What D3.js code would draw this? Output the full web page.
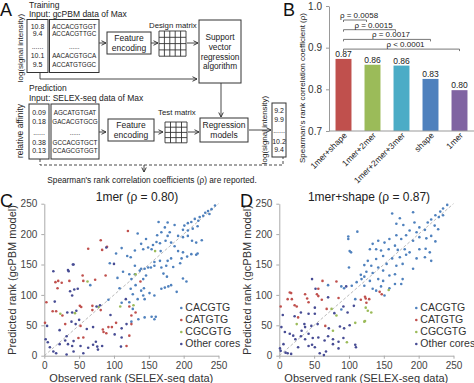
<!DOCTYPE html>
<html>
<head>
<meta charset="utf-8">
<script src="https://cdn.jsdelivr.net/npm/d3@7"></script>
<style>
  body { margin: 0; background: #fff; }
  svg { display: block; font-family: "Liberation Sans", Arial, sans-serif; }
</style>
</head>
<body>
<script>
const w = 474;
const h = 383;

// ---------- data ----------
// panel A texts
const trainValues = ["10.8", "9.4", "......", "10.1", "9.5"];
const trainSeqs = ["ACCACGTGGT", "ACCACGTTGC", "......", "AACACGTGCA", "ACCATGTGGC"];
const predValues = ["0.09", "0.18", "......", "0.38", "0.13"];
const predSeqs = ["AGCATGTGAT", "GACACGTGCG", "......", "GCCACGTGCT", "CCAGCGTGGT"];
const outValues = ["9.2", "9.9", "......", "10.2", "9.4"];

// panel B
const models = ["1mer+shape", "1mer+2mer", "1mer+2mer+3mer", "shape", "1mer"];
const rhoValues = [0.873, 0.859, 0.857, 0.825, 0.798];
const rhoLabels = ["0.87", "0.86", "0.86", "0.83", "0.80"];
const barColors = ["#c0504d", "#9bbb59", "#4bacc6", "#4f81bd", "#8064a2"];
const bTicks = [0.7, 0.8, 0.9, 1.0];
const pTexts = ["\u03c1 = 0.0058", "\u03c1 = 0.0015", "\u03c1 = 0.0017", "\u03c1 < 0.0001"];
const pTargets = [1, 2, 3, 4];

// panels C/D
const cores = ["CACGTG", "CATGTG", "CGCGTG", "Other cores"];
const coreColors = ["#4f81bd", "#c0504d", "#9bbb59", "#474c94"];
const rankTicks = [0, 50, 100, 150, 200, 250];

// 1mer model: [observed rank, predicted rank]
const c1merCACGTG = [
  [245,247],[240,241],[235,238],[237,233],[231,235],[228,230],[223,228],[221,222],[216,225],[211,220],
  [206,218],[201,214],[199,207],[206,206],[213,209],[220,213],[177,219],[164,220],[173,211],[187,215],
  [180,203],[192,197],[199,195],[206,197],[212,189],[218,186],[134,201],[146,192],[168,203],[162,198],
  [177,197],[174,189],[182,186],[166,185],[156,182],[149,178],[139,184],[142,175],[130,173],[154,175],
  [167,172],[187,180],[192,172],[199,170],[205,163],[211,167],[218,166],[197,160],[182,160],[177,156],
  [166,156],[158,154],[149,145],[139,143],[130,148],[124,162],[122,134],[130,134],[137,140],[144,143],
  [153,145],[158,148],[168,145],[175,148],[146,132],[142,126],[125,126],[131,116],[124,110],[127,101],
  [139,107],[143,111],[151,103],[158,99],[142,99],[134,93],[168,110],[173,112],[178,114],[182,116],
  [122,88],[144,93],[127,77],[135,60],[144,63],[154,64],[158,60],[125,56],[160,64],[171,135],
  [176,130],[185,146],[195,152],[199,127],[204,122],[190,105],[111,177],[103,168],[119,164],[94,152],
  [66,116],[105,128],[113,138],[108,111],[92,92],[111,87],[220,168],[226,190],[161,187]
];
const c1merCATGTG = [
  [120,205],[81,190],[90,179],[63,176],[83,174],[16,121],[20,123],[25,120],[19,111],[36,123],
  [55,132],[56,123],[73,125],[88,132],[3,88],[17,73],[12,73],[26,66],[51,82],[53,80],[69,82],
  [69,75],[81,75],[122,81],[1,54],[30,52],[52,49],[84,43],[89,37],[85,39],[92,47],[97,47],[103,54],
  [49,29],[56,30],[122,33],[131,71],[125,52],[125,66],[138,122],[118,16]
];
const c1merCGCGTG = [
  [62,122],[23,69],[109,81],[44,70],[128,83],[131,134],[159,172],[78,80]
];
const c1merOther = [
  [89,178],[100,151],[42,150],[13,139],[35,139],[37,106],[43,109],[40,99],[48,110],[15,89],
  [33,71],[40,71],[46,74],[75,81],[80,83],[95,67],[117,93],[4,49],[39,56],[45,52],[70,47],
  [50,59],[22,42],[61,44],[111,45],[118,52],[2,27],[5,22],[8,14],[13,7],[17,4],[22,19],[30,25],
  [32,32],[34,19],[40,16],[42,24],[52,16],[63,13],[70,18],[74,23],[76,15],[77,10],[83,16],[56,4],
  [42,7],[32,2],[110,15],[101,35],[111,30],[34,141],[41,150]
];

// 1mer+shape model: [observed rank, predicted rank]
const cShapeCACGTG = [
  [241,248],[235,242],[231,237],[235,231],[229,228],[224,231],[218,224],[213,219],[223,214],[228,208],
  [192,236],[162,234],[173,226],[168,217],[178,215],[194,219],[201,211],[209,207],[197,203],[187,206],
  [182,198],[201,195],[211,193],[218,197],[224,188],[192,189],[175,192],[168,198],[158,192],[151,186],
  [142,189],[134,184],[130,175],[139,175],[146,173],[157,175],[166,181],[170,174],[180,175],[187,170],
  [201,175],[210,176],[216,170],[209,162],[197,160],[182,166],[173,162],[162,160],[149,164],[139,159],
  [127,156],[122,149],[132,148],[142,145],[154,151],[168,148],[177,151],[192,143],[218,156],[125,138],
  [134,136],[149,140],[158,132],[166,134],[177,126],[142,126],[130,123],[149,123],[166,118],[158,111],
  [146,114],[122,115],[134,110],[139,107],[151,99],[175,118],[112,204],[99,192],[103,170],[100,145],
  [70,116],[89,114],[93,111],[104,115],[111,121],[118,126],[122,130],[117,133],[109,93],[89,76],
  [99,196],[101,172]
];
const cShapeCATGTG = [
  [62,123],[82,122],[15,104],[17,103],[12,93],[18,93],[22,83],[25,81],[2,81],[37,101],
  [40,94],[54,101],[56,98],[56,110],[42,88],[61,92],[85,95],[117,92],[124,94],[68,77],
  [27,63],[66,49],[129,93],[125,87],[144,105],[147,101],[123,97]
];
const cShapeCGCGTG = [
  [75,77],[82,66],[25,52],[77,41],[109,54],[122,56],[97,22],[124,79],[127,74],[132,71],[157,108],[123,57]
];
const cShapeOther = [
  [47,126],[52,110],[96,114],[70,96],[107,82],[92,81],[98,71],[51,69],[42,69],[31,71],
  [22,65],[51,79],[79,70],[5,67],[36,52],[37,47],[32,41],[46,49],[55,52],[71,45],
  [87,48],[93,45],[101,50],[3,47],[8,39],[15,36],[20,33],[23,27],[31,32],[37,27],
  [42,36],[48,29],[56,30],[65,25],[70,32],[77,27],[85,23],[92,29],[6,19],[1,12],
  [2,8],[9,5],[12,4],[17,3],[27,14],[42,16],[51,14],[58,4],[64,1],[67,7],
  [77,19],[85,12],[110,14],[47,18],[109,18]
];

// ---------- svg ----------
const svg = d3.select("body").append("svg").attr("width", w).attr("height", h);

const defs = svg.append("defs");
defs.append("marker")
  .attr("id", "arr")
  .attr("viewBox", "0 0 8 8")
  .attr("refX", 7).attr("refY", 4)
  .attr("markerWidth", 6).attr("markerHeight", 6)
  .attr("markerUnits", "userSpaceOnUse")
  .attr("orient", "auto")
  .append("path")
  .attr("d", "M1,1 L7,4 L1,7")
  .attr("fill", "none")
  .attr("stroke", "#333")
  .attr("stroke-width", 1.3);

// panel letters
[["A", 0, 16], ["B", 283, 16], ["C", 0, 207], ["D", 240, 207]].forEach(function (l) {
  svg.append("text").text(l[0]).attr("x", l[1]).attr("y", l[2])
    .attr("font-size", 18).attr("fill", "#111");
});

// ---------- panel A ----------
const gA = svg.append("g");

function rect(x, y, bw, bh) {
  gA.append("rect").attr("x", x).attr("y", y).attr("width", bw).attr("height", bh)
    .attr("fill", "#fff").attr("stroke", "#333").attr("stroke-width", 1);
}
function line(pts, opts) {
  opts = opts || {};
  const p = gA.append("path").attr("d", d3.line()(pts))
    .attr("fill", "none").attr("stroke", "#333").attr("stroke-width", 0.9);
  if (opts.dash) p.attr("stroke-dasharray", "3,2");
  if (opts.arrow) p.attr("marker-end", "url(#arr)");
}
function label(t, x, y, size, anchor) {
  return gA.append("text").text(t).attr("x", x).attr("y", y)
    .attr("font-size", size).attr("fill", "#222")
    .attr("text-anchor", anchor || "start").attr("dominant-baseline", "middle");
}
function grid(x, y, cols, rows, cw, ch) {
  for (let i = 0; i <= cols; i++) line([[x + i * cw, y], [x + i * cw, y + rows * ch]]);
  for (let j = 0; j <= rows; j++) line([[x, y + j * ch], [x + cols * cw, y + j * ch]]);
}
function rotLabel(t, x, y, size) {
  gA.append("text").text(t).attr("transform", "translate(" + x + "," + y + ") rotate(-90)")
    .attr("font-size", size).attr("fill", "#222").attr("text-anchor", "middle")
    .attr("dominant-baseline", "middle");
}

// training
label("Training", 29, 6, 8.5);
label("Input: gcPBM data of Max", 29, 14.5, 8.5);
rect(27, 19.5, 21, 53);
rect(49.5, 19.5, 49.5, 53);
const trainRows = [27, 34.5, 47, 56, 65.5];
trainValues.forEach(function (t, i) { label(t, 37.5, trainRows[i], 7, "middle"); });
trainSeqs.forEach(function (t, i) { label(t, 74.2, trainRows[i], 6.3, "middle"); });
rotLabel("log(signal intensity)", 21, 48, 8);

line([[99, 43], [106, 43]], { arrow: true });
rect(107, 32, 44, 22);
label("Feature", 129, 38.5, 8.5, "middle");
label("encoding", 129, 48.5, 8.5, "middle");
line([[151, 43], [158, 43]], { arrow: true });
label("Design matrix", 149, 26, 7.8);
grid(159, 31, 5, 4, 5.4, 6.3);
line([[187, 43], [198, 43]], { arrow: true });
rect(199, 20, 42, 63);
["Support", "vector", "regression", "algorithm"].forEach(function (t, i) {
  label(t, 220, 38 + i * 9.7, 8.3, "middle");
});
line([[40, 72.5], [40, 79], [197, 79]], { arrow: true });
line([[221, 83], [221, 117]], { arrow: true });

// prediction
label("Prediction", 29, 89, 8.5);
label("Input: SELEX-seq data of Max", 29, 98.5, 8.5);
rect(29, 104, 20, 55);
rect(51, 104, 48, 55);
const predRows = [113, 122, 133, 143, 151];
predValues.forEach(function (t, i) { label(t, 39, predRows[i], 7, "middle"); });
predSeqs.forEach(function (t, i) { label(t, 75, predRows[i], 6.3, "middle"); });
rotLabel("relative affinity", 21, 131, 8.5);

line([[99, 132], [106, 132]], { arrow: true });
rect(108, 119, 46, 22);
label("Feature", 131, 126, 8.5, "middle");
label("encoding", 131, 136, 8.5, "middle");
line([[154, 132], [163, 132]], { arrow: true });
label("Test matrix", 158, 113, 7.8);
grid(165, 122, 4, 4, 5.5, 5.2);
line([[188, 132], [199, 132]], { arrow: true });
rect(200, 118, 48, 24);
label("Regression", 224, 126, 8.5, "middle");
label("models", 224, 136, 8.5, "middle");
line([[249, 130], [271, 130]], { arrow: true });
rect(272, 103, 14, 54);
const outRows = [111, 120, 131, 142, 150];
outValues.forEach(function (t, i) { label(t, 279, outRows[i], 7, "middle"); });
rotLabel("log(signal intensity)", 265, 130, 8);

line([[40, 159], [40, 165], [283, 165], [283, 157]], { dash: true });
line([[144, 165], [144, 172]], { arrow: true });
label("Spearman's rank correlation coefficients (\u03c1) are reported.", 152, 181, 8.3, "middle");

// ---------- panel B ----------
const yB = d3.scaleLinear().domain([0.7, 1.0]).range([131, 6]);
const xB = d3.scaleBand().domain(models).range([329, 474]).paddingInner(0.45).paddingOuter(0.225);

const gB = svg.append("g");
gB.selectAll("rect.bar")
  .data(models)
  .enter()
  .append("rect")
  .attr("class", "bar")
  .attr("x", function (d) { return xB(d); })
  .attr("y", function (d, i) { return yB(rhoValues[i]); })
  .attr("width", xB.bandwidth())
  .attr("height", function (d, i) { return yB(0.7) - yB(rhoValues[i]); })
  .attr("fill", function (d, i) { return barColors[i]; });

gB.selectAll("text.val")
  .data(models)
  .enter()
  .append("text")
  .attr("class", "val")
  .attr("x", function (d) { return xB(d) + xB.bandwidth() / 2; })
  .attr("y", function (d, i) { return yB(rhoValues[i]) - 2; })
  .attr("text-anchor", "middle")
  .attr("font-size", 8.5)
  .attr("fill", "#222")
  .text(function (d, i) { return rhoLabels[i]; });

const yAxisB = d3.axisLeft(yB).tickValues(bTicks).tickFormat(d3.format(".1f")).tickSize(3).tickSizeOuter(0).tickPadding(4);
gB.append("g").attr("transform", "translate(329,0)").call(yAxisB);
gB.append("line").attr("x1", 329).attr("x2", 474).attr("y1", 131).attr("y2", 131)
  .attr("stroke", "#999");
gB.selectAll(".tick text").attr("font-size", 10).attr("fill", "#333");
gB.selectAll(".domain, .tick line").attr("stroke", "#999");

gB.selectAll("text.xl")
  .data(models)
  .enter()
  .append("text")
  .attr("class", "xl")
  .attr("transform", function (d) {
    return "translate(" + (xB(d) + xB.bandwidth() / 2 + 4) + ",136) rotate(-45)";
  })
  .attr("text-anchor", "end")
  .attr("font-size", 8.5)
  .attr("fill", "#222")
  .text(function (d) { return d; });

gB.append("text")
  .attr("transform", "translate(305,88) rotate(-90)")
  .attr("text-anchor", "middle")
  .attr("font-size", 8)
  .attr("fill", "#222")
  .text("Spearman's rank correlation coefficient (\u03c1)");

// significance brackets
const c0 = xB(models[0]) + xB.bandwidth() / 2;
pTexts.forEach(function (t, i) {
  const j = pTargets[i];
  const end = i < 2 ? xB(models[j]) + 2 : xB(models[j]) + xB.bandwidth() / 2;
  const yy = 20 + i * 9.7;
  gB.append("path")
    .attr("d", "M" + c0 + "," + (yy + 2) + "V" + yy + "H" + end + "V" + (yy + 2))
    .attr("fill", "none").attr("stroke", "#555").attr("stroke-width", 0.8);
  gB.append("text").text(t)
    .attr("x", (c0 + end) / 2 + 4).attr("y", yy - 2)
    .attr("text-anchor", "middle").attr("font-size", 8).attr("fill", "#222");
});

// ---------- panels C & D ----------
const yRank = d3.scaleLinear().domain([0, 250]).range([355.7, 203.7]);

function scatterPanel(left, title, titleX, series) {
  const x = d3.scaleLinear().domain([0, 250]).range([left, left + 174.2]);
  const g = svg.append("g");

  g.append("g").attr("transform", "translate(0,355.7)")
    .call(d3.axisBottom(x).tickValues(rankTicks).tickSize(3).tickSizeOuter(0).tickPadding(3));
  g.append("g").attr("transform", "translate(" + left + ",0)")
    .call(d3.axisLeft(yRank).tickValues(rankTicks).tickSize(3).tickSizeOuter(0).tickPadding(4));
  g.selectAll(".domain, .tick line").attr("stroke", "#aaa");
  g.selectAll(".tick text").attr("font-size", 10).attr("fill", "#444");

  // diagonal
  g.append("line")
    .attr("x1", x(0)).attr("y1", yRank(0)).attr("x2", x(250)).attr("y2", yRank(250))
    .attr("stroke", "#aaa").attr("stroke-width", 0.8).attr("stroke-dasharray", "3,2");

  series.forEach(function (pts, k) {
    g.selectAll("circle.s" + k)
      .data(pts)
      .enter()
      .append("circle")
      .attr("class", "s" + k)
      .attr("cx", function (d) { return x(d[0]); })
      .attr("cy", function (d) { return yRank(d[1]); })
      .attr("r", 1.3)
      .attr("fill", coreColors[k]);
  });

  // legend
  cores.forEach(function (c, k) {
    const ly = 308 + k * 12;
    g.append("circle").attr("cx", left + 137).attr("cy", ly).attr("r", 1.3).attr("fill", coreColors[k]);
    g.append("text").text(c).attr("x", left + 141).attr("y", ly)
      .attr("dominant-baseline", "middle").attr("font-size", 10.5).attr("fill", "#333");
  });

  g.append("text").text(title).attr("x", titleX).attr("y", 201)
    .attr("text-anchor", "middle").attr("font-size", 12).attr("fill", "#222");
  g.append("text").text("Observed rank (SELEX-seq data)")
    .attr("x", left + 87).attr("y", 382)
    .attr("text-anchor", "middle").attr("font-size", 11).attr("fill", "#333");
  g.append("text").text("Predicted rank (gcPBM model)")
    .attr("transform", "translate(" + (left - 28) + ",280) rotate(-90)")
    .attr("text-anchor", "middle").attr("font-size", 11).attr("fill", "#333");
}

scatterPanel(44.3, "1mer (\u03c1 = 0.80)", 137, [c1merCACGTG, c1merCATGTG, c1merCGCGTG, c1merOther]);
scatterPanel(279.3, "1mer+shape (\u03c1 = 0.87)", 369, [cShapeCACGTG, cShapeCATGTG, cShapeCGCGTG, cShapeOther]);
</script>
</body>
</html>
